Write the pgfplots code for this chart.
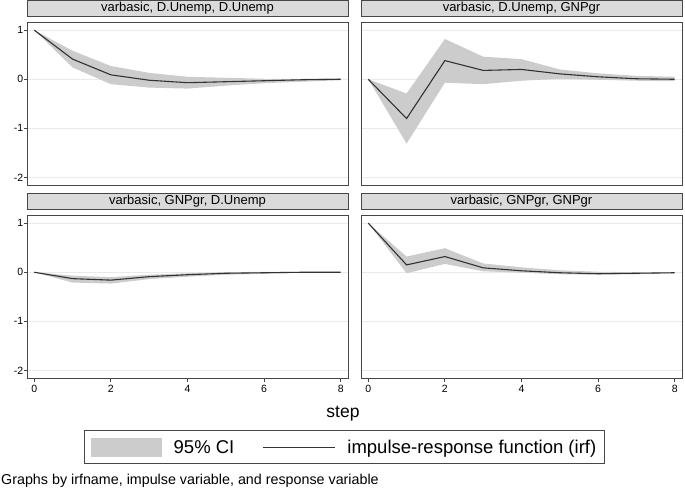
\documentclass[border=0pt]{standalone}
\usepackage{fontspec}
\setmainfont{Liberation Sans}
\usepackage{pgfplots}
\pgfplotsset{compat=1.18}
\usepackage{pgfplotstable}
\definecolor{cifill}{RGB}{204,204,204}
\definecolor{stripfill}{RGB}{218,218,218}
\definecolor{irfcol}{RGB}{50,50,50}
\definecolor{boxcol}{RGB}{70,70,70}
\definecolor{gridcol}{RGB}{234,234,234}

% irf lines: step irf
\pgfplotstableread{
step irf
0 1
1 0.41
2 0.09
3 -0.02
4 -0.07
5 -0.05
6 -0.03
7 -0.01
8 0.00
}\irfA
\pgfplotstableread{
step irf
0 0
1 -0.80
2 0.38
3 0.18
4 0.20
5 0.11
6 0.05
7 0.01
8 0.00
}\irfB
\pgfplotstableread{
step irf
0 0
1 -0.13
2 -0.16
3 -0.09
4 -0.05
5 -0.02
6 -0.01
7 0.00
8 0.00
}\irfC
\pgfplotstableread{
step irf
0 1
1 0.15
2 0.32
3 0.09
4 0.03
5 -0.01
6 -0.03
7 -0.02
8 -0.01
}\irfD
% 95% CI bands: upper bound forward, lower bound backward
\pgfplotstableread{
step ci
0 1
1 0.58
2 0.27
3 0.13
4 0.05
5 0.03
6 0.01
7 0.01
8 0.02
8 -0.02
7 -0.05
6 -0.08
5 -0.13
4 -0.19
3 -0.17
2 -0.10
1 0.24
0 1
}\ciA
\pgfplotstableread{
step ci
0 0
1 -0.29
2 0.82
3 0.46
4 0.41
5 0.20
6 0.12
7 0.07
8 0.05
8 -0.04
7 -0.03
6 -0.01
5 0.01
4 -0.03
3 -0.10
2 -0.07
1 -1.31
0 0
}\ciB
\pgfplotstableread{
step ci
0 0
1 -0.07
2 -0.10
3 -0.05
4 -0.02
5 0.00
6 0.01
7 0.01
8 0.01
8 -0.01
7 -0.01
6 -0.03
5 -0.05
4 -0.09
3 -0.14
2 -0.23
1 -0.21
0 0
}\ciC
\pgfplotstableread{
step ci
0 1
1 0.32
2 0.49
3 0.18
4 0.10
5 0.04
6 0.01
7 0.00
8 0.00
8 -0.02
7 -0.04
6 -0.05
5 -0.04
4 -0.01
3 0.02
2 0.17
1 -0.02
0 1
}\ciD

\pgfplotsset{
  panel/.style={
    scale only axis, width=321pt, height=163pt,
    anchor=south west,
    xmin=-0.19, xmax=8.19, ymin=-2.17, ymax=1.15,
    ytick={-2,-1,0,1},
    ymajorgrids, major grid style={draw=gridcol, line width=0.8pt},
    axis line style={draw=boxcol, line width=0.8pt},
    tick style={draw=boxcol, line width=0.8pt},
    tick align=outside, major tick length=3pt,
    xtick pos=bottom, ytick pos=left,
    ticklabel style={font=\fontsize{10.5}{12}\selectfont, text=black},
    yticklabel style={inner xsep=0.7pt},
    title style={at={(0.5,1)}, anchor=south, draw=boxcol, line width=0.8pt,
      fill=stripfill, minimum width=321pt, minimum height=16pt, inner sep=0pt,
      font=\fontsize{13}{14}\selectfont, yshift=0pt},
  },
  leftp/.style={yticklabels={-2,-1,0,1}},
  rightp/.style={yticklabels={}, y tick style={draw=none}},
  topp/.style={xtick=\empty},
  botp/.style={xtick={0,2,4,6,8}, xticklabels={0,2,4,6,8}},
}

\begin{document}
\begin{tikzpicture}

% top left
\begin{axis}[panel, leftp, topp, at={(27pt,-181pt)}, title={varbasic, D.Unemp, D.Unemp}]
\addplot[fill=cifill, draw=none, forget plot] table[x=step,y=ci]{\ciA};
\addplot[irfcol, line width=1.1pt, forget plot] table[x=step,y=irf]{\irfA};
\end{axis}

% top right
\begin{axis}[panel, rightp, topp, at={(361pt,-181pt)}, title={varbasic, D.Unemp, GNPgr}]
\addplot[fill=cifill, draw=none, forget plot] table[x=step,y=ci]{\ciB};
\addplot[irfcol, line width=1.1pt, forget plot] table[x=step,y=irf]{\irfB};
\end{axis}

% bottom left
\begin{axis}[panel, leftp, botp, at={(27pt,-374pt)}, title={varbasic, GNPgr, D.Unemp},
  legend columns=2,
  legend style={at={(0.989,-0.4202)}, anchor=center,
    draw=boxcol, line width=0.8pt, fill=white,
    font=\fontsize{18.5}{20}\selectfont,
    inner xsep=6pt, inner ysep=7pt,
    column sep=10pt,
    /tikz/every even column/.append style={column sep=26pt}},
  legend cell align=left]
\addplot[fill=cifill, draw=none,
  legend image code/.code={\fill[cifill] (0pt,-9.5pt) rectangle (71pt,9.5pt);}]
  table[x=step,y=ci]{\ciC};
\addlegendentry{95\% CI}
\addplot[irfcol, line width=1.1pt,
  legend image code/.code={\draw[irfcol, line width=1.1pt] (0pt,0pt) -- (72pt,0pt);}]
  table[x=step,y=irf]{\irfC};
\addlegendentry{impulse-response function (irf)}
\end{axis}

% bottom right
\begin{axis}[panel, rightp, botp, at={(361pt,-374pt)}, title={varbasic, GNPgr, GNPgr}]
\addplot[fill=cifill, draw=none, forget plot] table[x=step,y=ci]{\ciD};
\addplot[irfcol, line width=1.1pt, forget plot] table[x=step,y=irf]{\irfD};
\end{axis}

\node[anchor=base, font=\fontsize{17.5}{19}\selectfont] at (343pt,-413pt) {step};
\node[anchor=base west, inner sep=0pt, font=\fontsize{14.3}{16}\selectfont] at (1pt,-480pt)
  {Graphs by irfname, impulse variable, and response variable};
\path (0,0) rectangle (685pt,-485pt);
\end{tikzpicture}
\end{document}
